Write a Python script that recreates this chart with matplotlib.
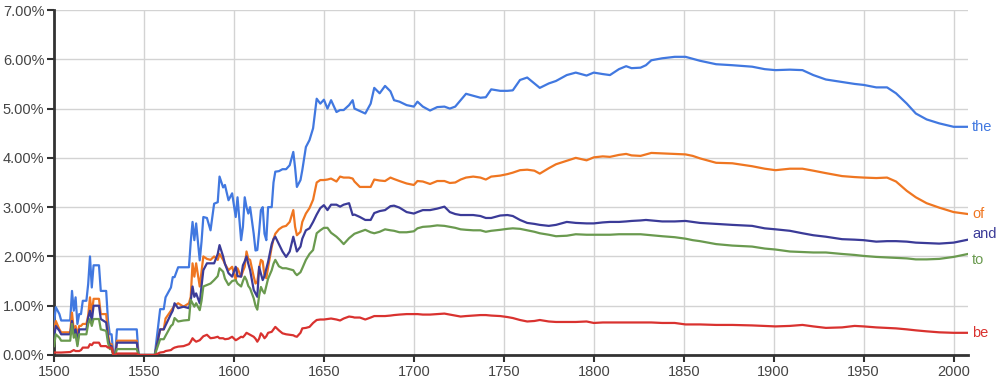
import matplotlib
matplotlib.use("Agg")
import matplotlib.pyplot as plt
from matplotlib.ticker import FuncFormatter, MultipleLocator

years = [1500, 1501, 1503, 1504, 1509, 1510, 1511, 1512, 1513, 1514, 1515, 1516, 1518, 1519,
         1520, 1521, 1522, 1525, 1526, 1529, 1530, 1531, 1532, 1533, 1534, 1535, 1546, 1547,
         1556, 1559, 1561, 1562, 1565, 1566, 1567, 1569, 1572, 1575, 1576, 1577, 1578, 1579,
         1581, 1582, 1583, 1585, 1587, 1589, 1591, 1592, 1594, 1595, 1597, 1599, 1601, 1602,
         1604, 1605, 1606, 1607, 1608, 1609, 1611, 1612, 1613, 1614, 1615, 1616, 1617, 1618,
         1619, 1621, 1622, 1623, 1625, 1627, 1629, 1631, 1633, 1634, 1635, 1637, 1638, 1640,
         1642, 1644, 1646, 1648, 1650, 1652, 1654, 1657, 1659, 1661, 1664, 1666, 1667, 1670,
         1673, 1676, 1678, 1681, 1684, 1687, 1689, 1692, 1696, 1700, 1702, 1705, 1709, 1713,
         1717, 1720, 1723, 1726, 1729, 1733, 1737, 1740, 1743, 1748, 1752, 1755, 1759, 1763,
         1767, 1770, 1775, 1779, 1785, 1790, 1796, 1800, 1805, 1809, 1814, 1818, 1821, 1826,
         1829, 1832, 1838, 1845, 1851, 1855, 1859, 1868, 1877, 1888, 1895, 1901, 1909, 1916,
         1922, 1929, 1938, 1945, 1950, 1957, 1963, 1968, 1974, 1979, 1985, 1992, 2000, 2008]

the = [0.63, 0.97, 0.83, 0.70, 0.70, 1.30, 0.90, 1.17, 0.63, 0.83, 0.83, 1.10, 1.10, 1.44,
       2.00, 1.37, 1.82, 1.82, 1.30, 1.30, 0.70, 0.42, 0.42, 0.00, 0.00, 0.52, 0.52, 0.00,
       0.00, 0.93, 0.93, 1.17, 1.37, 1.58, 1.58, 1.78, 1.78, 1.78, 2.30, 2.70, 2.33, 2.67,
       1.92, 2.30, 2.80, 2.78, 2.53, 3.07, 3.10, 3.62, 3.40, 3.45, 3.14, 3.28, 2.80, 3.20,
       2.33, 2.60, 3.20, 3.00, 2.87, 3.00, 2.46, 2.12, 2.13, 2.50, 2.94, 3.00, 2.46, 2.33,
       3.00, 3.00, 3.50, 3.72, 3.73, 3.77, 3.77, 3.85, 4.12, 3.80, 3.41, 3.55, 3.75, 4.22,
       4.36, 4.60, 5.20, 5.10, 5.18, 5.00, 5.17, 4.93, 4.97, 4.97, 5.07, 5.17, 5.00, 4.95,
       4.90, 5.10, 5.42, 5.31, 5.46, 5.35, 5.17, 5.14, 5.07, 5.04, 5.14, 5.04, 4.96, 5.03,
       5.04, 5.00, 5.04, 5.17, 5.30, 5.26, 5.22, 5.23, 5.39, 5.36, 5.36, 5.37, 5.58, 5.63,
       5.51, 5.42, 5.51, 5.56, 5.68, 5.73, 5.67, 5.73, 5.70, 5.68, 5.80, 5.86, 5.82, 5.83,
       5.88, 5.98, 6.02, 6.05, 6.05, 6.01, 5.97, 5.90, 5.88, 5.85, 5.80, 5.78, 5.79, 5.78,
       5.68, 5.59, 5.54, 5.50, 5.48, 5.43, 5.43, 5.31, 5.10, 4.90, 4.78, 4.70, 4.63, 4.63]

of = [0.49, 0.69, 0.52, 0.46, 0.46, 0.86, 0.49, 0.59, 0.39, 0.59, 0.59, 0.63, 0.63, 0.80,
      1.17, 0.83, 1.14, 1.14, 0.83, 0.83, 0.42, 0.22, 0.22, 0.00, 0.00, 0.29, 0.29, 0.00,
      0.00, 0.52, 0.52, 0.74, 0.90, 0.95, 1.00, 1.05, 0.98, 1.05, 1.18, 1.86, 1.59, 1.86,
      1.39, 1.70, 2.00, 1.95, 1.93, 2.00, 1.93, 2.05, 1.93, 1.85, 1.72, 1.79, 1.52, 1.76,
      1.59, 1.70, 1.79, 2.10, 1.95, 1.93, 1.59, 1.45, 1.49, 1.75, 1.93, 1.90, 1.60, 1.56,
      1.78, 2.19, 2.35, 2.46, 2.55, 2.60, 2.62, 2.70, 2.94, 2.60, 2.43, 2.50, 2.70, 2.87,
      2.98, 3.15, 3.50, 3.55, 3.55, 3.56, 3.58, 3.52, 3.62, 3.60, 3.60, 3.58, 3.52, 3.41,
      3.41, 3.41, 3.56, 3.54, 3.53, 3.60, 3.57, 3.53, 3.48, 3.45, 3.53, 3.52, 3.47, 3.53,
      3.53, 3.49, 3.50, 3.56, 3.60, 3.62, 3.60, 3.56, 3.62, 3.64, 3.67, 3.70, 3.75, 3.76,
      3.74, 3.68, 3.79, 3.87, 3.94, 4.00, 3.95, 4.01, 4.03, 4.02, 4.06, 4.08, 4.05, 4.04,
      4.07, 4.10, 4.09, 4.08, 4.07, 4.04, 3.99, 3.90, 3.89, 3.83, 3.78, 3.75, 3.78, 3.78,
      3.74, 3.69, 3.63, 3.61, 3.60, 3.59, 3.60, 3.52, 3.33, 3.20, 3.08, 2.99, 2.90, 2.86]

and_ = [0.35, 0.59, 0.49, 0.42, 0.42, 0.69, 0.42, 0.52, 0.22, 0.52, 0.52, 0.52, 0.52, 0.76,
        0.90, 0.69, 1.00, 1.00, 0.73, 0.66, 0.35, 0.18, 0.18, 0.00, 0.00, 0.25, 0.25, 0.00,
        0.00, 0.52, 0.52, 0.60, 0.83, 0.90, 1.05, 0.95, 0.98, 0.95, 1.10, 1.39, 1.18, 1.25,
        1.05, 1.40, 1.72, 1.86, 1.86, 1.86, 2.05, 2.23, 2.00, 1.85, 1.66, 1.59, 1.79, 1.60,
        1.59, 1.82, 1.90, 2.00, 1.85, 1.72, 1.32, 1.25, 1.18, 1.79, 1.65, 1.52, 1.60, 1.75,
        1.89, 2.25, 2.35, 2.40, 2.25, 2.10, 1.99, 2.10, 2.40, 2.25, 2.10, 2.20, 2.36, 2.53,
        2.57, 2.70, 2.85, 2.98, 3.04, 2.94, 3.05, 3.05, 3.01, 3.05, 3.08, 2.84, 2.85, 2.80,
        2.74, 2.74, 2.88, 2.92, 2.94, 3.02, 3.03, 2.99, 2.90, 2.87, 2.90, 2.94, 2.94, 2.97,
        3.01, 2.90, 2.86, 2.84, 2.84, 2.84, 2.82, 2.78, 2.78, 2.83, 2.84, 2.82, 2.74, 2.68,
        2.66, 2.64, 2.62, 2.64, 2.70, 2.68, 2.67, 2.67, 2.69, 2.70, 2.70, 2.71, 2.72, 2.73,
        2.74, 2.73, 2.71, 2.71, 2.72, 2.70, 2.68, 2.66, 2.64, 2.62, 2.57, 2.55, 2.52, 2.47,
        2.43, 2.40, 2.35, 2.34, 2.33, 2.30, 2.31, 2.31, 2.30, 2.28, 2.27, 2.26, 2.28, 2.34]

to = [0.18, 0.42, 0.35, 0.29, 0.29, 0.63, 0.35, 0.42, 0.18, 0.42, 0.42, 0.42, 0.42, 0.63,
      0.73, 0.59, 0.73, 0.73, 0.52, 0.49, 0.25, 0.12, 0.12, 0.00, 0.00, 0.12, 0.12, 0.00,
      0.00, 0.32, 0.32, 0.39, 0.59, 0.62, 0.75, 0.68, 0.70, 0.71, 1.12, 1.05, 0.98, 1.05,
      0.91, 1.10, 1.39, 1.42, 1.45, 1.52, 1.60, 1.76, 1.69, 1.55, 1.42, 1.50, 1.52, 1.45,
      1.39, 1.50, 1.59, 1.52, 1.40, 1.35, 1.15, 1.00, 0.92, 1.20, 1.38, 1.30, 1.25, 1.40,
      1.55, 1.72, 1.85, 1.93, 1.80, 1.76, 1.76, 1.74, 1.72, 1.66, 1.62, 1.68, 1.76, 1.93,
      2.05, 2.13, 2.47, 2.53, 2.58, 2.58, 2.48, 2.40, 2.33, 2.25, 2.37, 2.43, 2.46, 2.50,
      2.54, 2.49, 2.47, 2.50, 2.55, 2.53, 2.52, 2.49, 2.49, 2.51, 2.57, 2.60, 2.61, 2.63,
      2.62, 2.60, 2.58, 2.55, 2.54, 2.53, 2.53, 2.50, 2.52, 2.54, 2.56, 2.57, 2.56, 2.53,
      2.50, 2.47, 2.44, 2.41, 2.42, 2.45, 2.44, 2.44, 2.44, 2.44, 2.45, 2.45, 2.45, 2.45,
      2.44, 2.43, 2.41, 2.39, 2.36, 2.33, 2.31, 2.25, 2.22, 2.20, 2.16, 2.14, 2.10, 2.09,
      2.08, 2.08, 2.05, 2.03, 2.01, 1.99, 1.98, 1.97, 1.96, 1.94, 1.94, 1.95, 1.99, 2.05]

be = [0.05, 0.05, 0.05, 0.05, 0.06, 0.08, 0.10, 0.08, 0.08, 0.08, 0.10, 0.15, 0.15, 0.15,
      0.22, 0.20, 0.25, 0.25, 0.18, 0.18, 0.15, 0.15, 0.15, 0.00, 0.00, 0.03, 0.03, 0.00,
      0.00, 0.05, 0.06, 0.08, 0.10, 0.13, 0.15, 0.17, 0.18, 0.22, 0.27, 0.34, 0.30, 0.27,
      0.30, 0.34, 0.38, 0.41, 0.34, 0.35, 0.37, 0.34, 0.34, 0.32, 0.33, 0.37, 0.30, 0.32,
      0.37, 0.36, 0.40, 0.45, 0.43, 0.41, 0.37, 0.33, 0.27, 0.33, 0.44, 0.40, 0.34, 0.38,
      0.45, 0.47, 0.52, 0.57, 0.50, 0.44, 0.42, 0.41, 0.40, 0.38, 0.37, 0.45, 0.54, 0.55,
      0.57, 0.65, 0.71, 0.72, 0.72, 0.73, 0.74, 0.72, 0.70, 0.74, 0.78, 0.77, 0.76, 0.76,
      0.72, 0.76, 0.79, 0.79, 0.79, 0.80, 0.81, 0.82, 0.83, 0.83, 0.83, 0.82, 0.82, 0.83,
      0.84, 0.82, 0.80, 0.78, 0.79, 0.80, 0.81, 0.81, 0.80, 0.79, 0.77, 0.75, 0.71, 0.68,
      0.69, 0.71, 0.68, 0.67, 0.67, 0.67, 0.68, 0.65, 0.66, 0.66, 0.66, 0.66, 0.66, 0.66,
      0.66, 0.66, 0.65, 0.65, 0.62, 0.62, 0.62, 0.61, 0.61, 0.60, 0.59, 0.58, 0.59, 0.61,
      0.58, 0.55, 0.56, 0.59, 0.58, 0.56, 0.55, 0.54, 0.52, 0.50, 0.48, 0.46, 0.45, 0.45]

labels = ["the", "of", "and", "to", "be"]
series = [the, of, and_, to, be]
colors = ["#4178e0", "#ef7621", "#3b3b98", "#6a9a4f", "#d9322f"]
label_dy = [0, 0, 4, -4, 0]

plt.rcParams['font.family'] = ['Liberation Sans', 'DejaVu Sans']

fig = plt.figure(figsize=(10, 3.82), dpi=100)
ax = fig.add_axes([0.054, 0.0707, 0.914, 0.9031])

for name, vals, col, dy in zip(labels, series, colors, label_dy):
    ax.plot(years, vals, color=col, lw=1.6, solid_joinstyle='round', zorder=3)
    ax.annotate(name, xy=(years[-1], vals[-1]), xytext=(3, dy), textcoords='offset points',
                color=col, fontsize=10.5, va='center', ha='left', annotation_clip=False)

ax.set_xlim(1500, 2008)
ax.set_ylim(0, 7)
ax.xaxis.set_major_locator(MultipleLocator(50))
ax.yaxis.set_major_locator(MultipleLocator(1))
ax.yaxis.set_major_formatter(FuncFormatter(lambda v, p: f"{v:.2f}%"))
ax.grid(True, color="#d3d3d3", lw=1.0, zorder=0)
ax.set_axisbelow(True)
for s in ["top", "right"]:
    ax.spines[s].set_visible(False)
for s in ["left", "bottom"]:
    ax.spines[s].set_color("#333333")
    ax.spines[s].set_linewidth(2)
ax.tick_params(axis='both', colors="#333333", labelcolor="#444444", labelsize=10.5,
               length=5, width=1.5, direction='out')
ax.tick_params(axis='x', pad=2)
ax.tick_params(axis='y', pad=2)

fig.savefig("out.png", dpi=100)
